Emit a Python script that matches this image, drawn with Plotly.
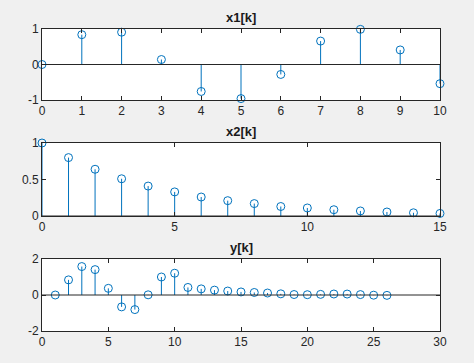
import plotly.graph_objects as go

# ---- data ----
k1 = [0, 1, 2, 3, 4, 5, 6, 7, 8, 9, 10]
x1 = [0.0, 0.84, 0.91, 0.14, -0.76, -0.96, -0.28, 0.66, 0.99, 0.41, -0.54]

k2 = [0, 1, 2, 3, 4, 5, 6, 7, 8, 9, 10, 11, 12, 13, 14, 15]
x2 = [1.0, 0.8, 0.64, 0.51, 0.41, 0.33, 0.26, 0.21, 0.17, 0.13, 0.11, 0.086, 0.069, 0.055, 0.044, 0.035]

k3 = list(range(1, 27))
y = [0.0, 0.84, 1.58, 1.41, 0.37, -0.66, -0.81, 0.01, 1.0, 1.21, 0.42, 0.34, 0.27, 0.22,
     0.17, 0.14, 0.11, 0.065, 0.026, 0.017, 0.035, 0.055, 0.052, 0.023, -0.01, -0.02]

titles = ["x1[k]", "x2[k]", "y[k]"]
xranges = [[0, 10], [0, 15], [0, 30]]
yranges = [[-1, 1], [0, 1], [-2, 2]]
xticks = [list(range(0, 11)), [0, 5, 10, 15], [0, 5, 10, 15, 20, 25, 30]]
yticks = [[-1, 0, 1], [0, 0.5, 1], [-2, 0, 2]]
yticklabels = [["-1", "0", "1"], ["0", "0.5", "1"], ["-2", "0", "2"]]

# ---- layout geometry ----
W, H = 474, 363
xdom = [42 / W, 440 / W]
ydoms = [(29, 100), (143, 216), (259, 331)]

BLUE = "#0072BD"
AX = "#262626"
FONT = "Liberation Sans, Arial, sans-serif"

fig = go.Figure()
series = [(k1, x1), (k2, x2), (k3, y)]
layout = dict(
    width=W, height=H, margin=dict(l=0, r=0, t=0, b=0, autoexpand=False),
    paper_bgcolor="#f0f0f0", plot_bgcolor="white", showlegend=False,
    font=dict(family=FONT, size=12, color=AX),
)
shapes = []
annotations = []
for i, (kk, vv) in enumerate(series):
    n = i + 1
    xa = "x" if n == 1 else f"x{n}"
    ya = "y" if n == 1 else f"y{n}"
    sx, sy = [], []
    for a, b in zip(kk, vv):
        sx += [a, a, None]
        sy += [0, b, None]
    fig.add_trace(go.Scatter(x=sx, y=sy, mode="lines", line=dict(color=BLUE, width=1),
                             xaxis=xa, yaxis=ya, hoverinfo="skip", cliponaxis=False))
    fig.add_trace(go.Scatter(x=kk, y=vv, mode="markers",
                             marker=dict(symbol="circle-open", size=8, color=BLUE,
                                         line=dict(width=1, color=BLUE)),
                             xaxis=xa, yaxis=ya, cliponaxis=False))
    top, bot = ydoms[i]
    yd = [1 - bot / H, 1 - top / H]
    axkey = "xaxis" if n == 1 else f"xaxis{n}"
    aykey = "yaxis" if n == 1 else f"yaxis{n}"
    layout[axkey] = dict(domain=xdom, anchor=ya, range=xranges[i], tickvals=xticks[i],
                         automargin=False,
                         showgrid=False, zeroline=False, showline=True, mirror="ticks",
                         linecolor=AX, linewidth=1, ticks="inside", ticklen=4,
                         tickcolor=AX, tickfont=dict(size=12, color=AX))
    layout[aykey] = dict(domain=yd, anchor=xa, range=yranges[i], tickvals=yticks[i],
                         ticktext=yticklabels[i], automargin=False,
                         showgrid=False, zeroline=False, showline=True, mirror="ticks",
                         linecolor=AX, linewidth=1, ticks="inside", ticklen=4,
                         tickcolor=AX, tickfont=dict(size=12, color=AX))
    shapes.append(dict(type="line", xref=f"{xa} domain", yref=ya, x0=0, x1=1, y0=0, y1=0,
                       line=dict(color=AX, width=1), layer="above"))
    annotations.append(dict(text=f"<b>{titles[i]}</b>", xref="paper", yref="paper",
                            x=(xdom[0] + xdom[1]) / 2, y=yd[1], yanchor="bottom",
                            xanchor="center", yshift=2, showarrow=False,
                            font=dict(size=13, color="#1a1a1a", family=FONT)))
layout["shapes"] = shapes
layout["annotations"] = annotations
fig.update_layout(**layout)
fig.write_html("out.html", config={"displayModeBar": False},
               post_script="document.body.style.margin='0';document.body.style.overflow='hidden';")
